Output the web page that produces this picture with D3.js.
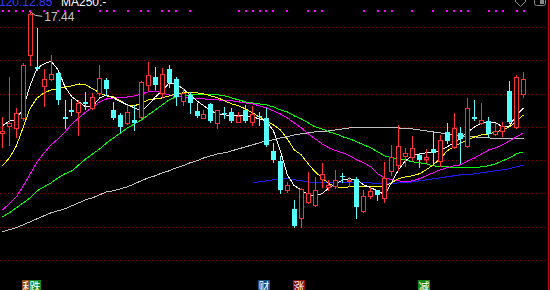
<!DOCTYPE html>
<html>
<head>
<meta charset="utf-8">
<script src="https://cdn.jsdelivr.net/npm/d3@7"></script>
<style>
  html, body { margin: 0; padding: 0; background: #000; overflow: hidden; }
  svg { display: block; }
</style>
</head>
<body>
<svg id="chart"></svg>
<script>
const width = 550;
const height = 290;

// Daily candles (76 sessions)
const opens = [13.82, 14.03, 13.97, 14.27, 16.16, 15.80, 15.23, 15.44, 15.62, 14.30,
  14.51, 14.45, 14.75, 14.57, 15.02, 15.41, 14.51, 14.36, 14.12, 14.21,
  14.30, 15.26, 15.50, 15.02, 15.74, 15.44, 14.78, 14.96, 14.48, 14.27,
  14.69, 14.12, 14.43, 14.45, 14.15, 14.51, 14.15, 14.33, 14.27, 13.28,
  12.98, 12.11, 11.54, 11.27, 11.75, 11.66, 12.44, 12.20, 12.23, 12.51,
  12.38, 12.44, 11.48, 11.93, 12.11, 11.87, 12.68, 12.86, 13.13, 13.10,
  13.16, 13.04, 13.34, 12.98, 13.85, 13.40, 13.82, 13.43, 14.30, 14.12,
  14.18, 13.79, 13.88, 15.08, 14.00, 14.99];
const highs = [14.30, 15.50, 14.57, 15.92, 17.44, 16.97, 15.74, 16.16, 15.65, 14.81,
  14.84, 14.81, 15.05, 15.02, 15.86, 15.47, 14.75, 14.42, 14.66, 14.66,
  15.38, 15.95, 15.80, 15.77, 15.86, 15.50, 15.17, 15.05, 14.72, 14.51,
  14.72, 14.51, 14.60, 14.57, 14.45, 14.66, 14.63, 14.45, 14.57, 13.52,
  13.13, 12.35, 11.81, 12.17, 12.65, 12.50, 12.92, 12.41, 12.71, 12.62,
  12.50, 12.50, 12.11, 12.20, 12.11, 12.95, 13.46, 14.06, 13.37, 13.73,
  13.22, 13.34, 13.88, 13.76, 14.12, 14.42, 14.00, 14.87, 14.81, 14.72,
  14.30, 14.12, 14.15, 15.38, 15.56, 15.65];
const lows = [13.40, 13.46, 13.70, 14.21, 15.86, 15.71, 14.63, 15.41, 14.69, 13.97,
  14.36, 13.76, 14.54, 14.54, 14.96, 14.96, 14.24, 13.85, 14.09, 13.91,
  14.21, 15.11, 15.14, 14.90, 15.20, 14.66, 14.66, 14.42, 14.30, 14.27,
  14.15, 13.97, 14.27, 14.15, 14.15, 14.15, 14.06, 14.06, 13.43, 12.95,
  12.02, 12.05, 11.00, 11.00, 11.72, 11.63, 12.20, 12.11, 12.17, 12.35,
  12.23, 11.27, 11.45, 11.87, 11.81, 11.75, 12.56, 12.71, 12.83, 13.01,
  12.80, 12.95, 12.89, 12.83, 13.52, 13.37, 12.92, 13.40, 14.21, 14.09,
  13.70, 13.76, 13.73, 14.12, 13.97, 14.90];
const closes = [13.88, 14.12, 14.42, 15.86, 17.40, 15.74, 15.44, 15.59, 14.81, 14.24,
  14.45, 14.72, 14.69, 14.90, 15.47, 15.14, 14.27, 14.00, 14.45, 14.12,
  15.35, 15.56, 15.26, 15.59, 15.32, 14.90, 15.02, 14.72, 14.33, 14.39,
  14.18, 14.51, 14.40, 14.18, 14.33, 14.18, 14.39, 14.30, 13.46, 13.01,
  12.11, 12.26, 11.03, 12.14, 12.02, 12.11, 12.59, 12.26, 12.41, 12.48,
  12.41, 11.60, 11.93, 12.08, 11.96, 12.47, 13.10, 13.43, 13.22, 13.37,
  13.01, 13.10, 13.22, 13.61, 13.58, 13.97, 13.64, 14.57, 14.24, 14.21,
  13.79, 13.88, 14.03, 14.15, 15.50, 15.44];

// Moving averages
const ma5 = [14.03, 14.18, 14.21, 14.57, 15.26, 15.77, 15.89, 15.98, 15.71, 15.20,
  14.90, 14.75, 14.60, 14.63, 14.87, 14.96, 14.87, 14.75, 14.66, 14.57,
  14.48, 14.66, 14.90, 15.08, 15.32, 15.29, 15.14, 14.96, 14.78, 14.63,
  14.48, 14.39, 14.36, 14.33, 14.33, 14.33, 14.30, 14.24, 14.18, 13.88,
  13.28, 12.56, 12.23, 12.11, 11.96, 11.93, 11.99, 12.17, 12.29, 12.41,
  12.44, 12.41, 12.26, 12.17, 12.08, 11.96, 12.32, 12.71, 12.98, 13.13,
  13.19, 13.22, 13.22, 13.28, 13.40, 13.52, 13.67, 13.85, 14.00, 14.12,
  14.15, 14.12, 14.00, 14.03, 14.36, 14.57];
const ma10 = [12.83, 13.07, 13.43, 14.00, 14.57, 14.87, 15.02, 15.11, 15.14, 15.20,
  15.23, 15.29, 15.26, 15.14, 15.02, 14.93, 14.90, 14.78, 14.66, 14.63,
  14.72, 14.81, 14.84, 14.87, 14.93, 14.99, 15.02, 15.02, 15.02, 14.99,
  14.93, 14.87, 14.78, 14.69, 14.63, 14.54, 14.42, 14.30, 14.18, 14.06,
  13.91, 13.64, 13.31, 13.16, 12.89, 12.65, 12.47, 12.29, 12.20, 12.17,
  12.20, 12.20, 12.20, 12.20, 12.20, 12.23, 12.32, 12.44, 12.50, 12.53,
  12.59, 12.71, 12.86, 13.04, 13.28, 13.40, 13.52, 13.61, 13.70, 13.76,
  13.79, 13.85, 13.91, 14.00, 14.18, 14.36];
const ma20 = [11.51, 11.69, 11.90, 12.23, 12.59, 12.95, 13.22, 13.46, 13.64, 13.85,
  14.09, 14.27, 14.45, 14.60, 14.75, 14.84, 14.87, 14.87, 14.90, 14.93,
  14.99, 15.05, 15.08, 15.02, 14.96, 14.90, 14.90, 14.87, 14.84, 14.84,
  14.81, 14.81, 14.78, 14.78, 14.75, 14.72, 14.69, 14.63, 14.57, 14.48,
  14.39, 14.27, 14.12, 13.97, 13.79, 13.64, 13.49, 13.37, 13.28, 13.22,
  13.13, 13.01, 12.92, 12.80, 12.59, 12.47, 12.41, 12.38, 12.35, 12.38,
  12.44, 12.53, 12.62, 12.71, 12.77, 12.83, 12.86, 12.98, 13.07, 13.19,
  13.31, 13.37, 13.46, 13.58, 13.70, 13.82];
const ma30 = [11.30, 11.42, 11.57, 11.72, 11.87, 12.08, 12.20, 12.32, 12.47, 12.59,
  12.68, 12.86, 13.04, 13.19, 13.34, 13.52, 13.67, 13.82, 13.97, 14.09,
  14.21, 14.36, 14.51, 14.66, 14.81, 14.90, 14.93, 14.96, 14.96, 14.96,
  14.96, 14.96, 14.93, 14.87, 14.81, 14.75, 14.72, 14.69, 14.66, 14.60,
  14.51, 14.45, 14.33, 14.24, 14.12, 14.00, 13.94, 13.85, 13.79, 13.70,
  13.64, 13.55, 13.46, 13.37, 13.25, 13.13, 13.07, 13.04, 13.01, 12.95,
  12.92, 12.89, 12.83, 12.80, 12.80, 12.77, 12.77, 12.77, 12.77, 12.80,
  12.83, 12.89, 12.98, 13.07, 13.19, 13.25];
const ma60 = [10.85, 10.91, 10.97, 11.06, 11.15, 11.24, 11.33, 11.42, 11.48, 11.54,
  11.63, 11.72, 11.81, 11.87, 11.96, 12.05, 12.08, 12.14, 12.20, 12.29,
  12.38, 12.47, 12.53, 12.62, 12.68, 12.77, 12.83, 12.92, 12.98, 13.07,
  13.13, 13.19, 13.22, 13.28, 13.34, 13.40, 13.46, 13.52, 13.58, 13.61,
  13.67, 13.70, 13.76, 13.79, 13.82, 13.85, 13.85, 13.88, 13.91, 13.94,
  13.97, 13.97, 13.97, 13.97, 13.97, 13.97, 13.97, 13.97, 13.94, 13.94,
  13.91, 13.88, 13.85, 13.82, 13.79, 13.76, 13.73, 13.70, 13.70, 13.67,
  13.67, 13.64, 13.64, 13.64, 13.64, 13.64];
const ma120 = [null, null, null, null, null, null, null, null, null, null,
  null, null, null, null, null, null, null, null, null, null,
  null, null, null, null, null, null, null, null, null, null,
  null, null, null, null, null, null, 12.32, 12.35, 12.38, 12.41,
  12.44, 12.44, 12.41, 12.38, 12.35, 12.32, 12.32, 12.32, 12.32, 12.32,
  12.32, 12.32, 12.32, 12.32, 12.29, 12.29, 12.29, 12.32, 12.32, 12.35,
  12.38, 12.41, 12.44, 12.47, 12.50, 12.53, 12.56, 12.56, 12.59, 12.62,
  12.65, 12.68, 12.71, 12.74, 12.80, 12.85];

const gridPrices = [10, 11, 12, 13, 14, 15, 16, 17];
const markDays = [0, 1, 2, 3, 4, 6, 8, 9, 11, 14, 15, 16, 18, 20, 21, 23, 24, 25, 27,
  34, 35, 36, 37, 38, 39, 41, 44, 45, 46, 52, 54, 55, 56, 59, 62, 64, 65, 66, 67,
  70, 71, 72, 74, 75];
const tagDays = [3, 4, 37, 42, 60];
const tagTexts = ['利', '跌', '财', '涨', '减'];
const tagColors = ['#8c4a12', '#12841a', '#164a82', '#8c0a0a', '#12841a'];

const upColor = '#ff3232';
const downColor = '#54ffff';

const svg = d3.select('#chart')
  .attr('width', width)
  .attr('height', height)
  .style('background', '#000');

const x = d3.scalePoint()
  .domain(d3.range(opens.length))
  .range([2.5, 523.5]);

const y = d3.scaleLinear()
  .domain([10, 17])
  .range([260, 27]);

// dotted price grid
svg.append('g')
  .selectAll('line')
  .data(gridPrices)
  .join('line')
  .attr('x1', 0)
  .attr('x2', 547)
  .attr('y1', d => Math.round(y(d)) + 0.5)
  .attr('y2', d => Math.round(y(d)) + 0.5)
  .attr('stroke', '#8a0000')
  .attr('stroke-dasharray', '1,3')
  .attr('shape-rendering', 'crispEdges');

// right border
svg.append('line')
  .attr('x1', 548.5).attr('x2', 548.5)
  .attr('y1', 0).attr('y2', height)
  .attr('stroke', '#c80000')
  .attr('shape-rendering', 'crispEdges');

// moving averages
const lines = [
  { values: ma60, color: '#c0c0c0' },
  { values: ma120, color: '#1a1aff' },
  { values: ma30, color: '#00ff00' },
  { values: ma20, color: '#ff00ff' },
  { values: ma10, color: '#ffff00' },
  { values: ma5, color: '#ffffff' }
];

const lineGen = d3.line()
  .defined(d => d != null)
  .x((d, i) => x(i))
  .y(d => y(d));

svg.append('g')
  .selectAll('path')
  .data(lines)
  .join('path')
  .attr('d', d => lineGen(d.values))
  .attr('fill', 'none')
  .attr('stroke', d => d.color)
  .attr('stroke-width', 1)
  .attr('shape-rendering', 'crispEdges');

// candles
const candles = d3.range(opens.length).map(i => ({
  i, o: opens[i], h: highs[i], l: lows[i], c: closes[i]
}));

const cg = svg.append('g').attr('shape-rendering', 'crispEdges');

candles.forEach(d => {
  const left = Math.round(x(d.i) - 2.5);
  const wx = left + 2.5;
  const top = Math.round(y(Math.max(d.o, d.c)));
  const bot = Math.round(y(Math.min(d.o, d.c)));
  const hi = Math.round(y(d.h));
  const lo = Math.round(y(d.l));
  if (d.c > d.o) {
    if (hi < top) cg.append('line').attr('x1', wx).attr('x2', wx).attr('y1', hi).attr('y2', top).attr('stroke', upColor);
    if (lo > bot) cg.append('line').attr('x1', wx).attr('x2', wx).attr('y1', bot + 1).attr('y2', lo + 1).attr('stroke', upColor);
    cg.append('rect')
      .attr('x', left + 0.5).attr('y', top + 0.5)
      .attr('width', 4).attr('height', Math.max(bot - top, 1))
      .attr('fill', '#000').attr('stroke', upColor);
  } else {
    cg.append('line').attr('x1', wx).attr('x2', wx).attr('y1', hi).attr('y2', lo + 1).attr('stroke', downColor);
    cg.append('rect')
      .attr('x', left).attr('y', top)
      .attr('width', 5).attr('height', Math.max(bot - top, 1))
      .attr('fill', downColor);
  }
});

// signal dots along the top
svg.append('g')
  .selectAll('rect')
  .data(markDays)
  .join('rect')
  .attr('x', d => Math.round(x(d)) - 1)
  .attr('y', 10)
  .attr('width', 2)
  .attr('height', 2)
  .attr('fill', '#ff00ff');

// high marker
const hiIdx = d3.maxIndex(highs);
const hx = x(hiIdx), hy = y(highs[hiIdx]);
svg.append('path')
  .attr('d', `M${hx + 1},${hy} L${hx + 5},${hy + 3} L${hx + 12},${hy + 4}`)
  .attr('fill', 'none')
  .attr('stroke', '#c8c8c8');
svg.append('text')
  .attr('x', hx + 14)
  .attr('y', hy + 9)
  .attr('fill', '#c8c8c8')
  .attr('font-family', 'Liberation Sans, Arial, sans-serif')
  .attr('font-size', 12)
  .text(highs[hiIdx].toFixed(2));

// legend text (scrolled, partly off the top)
svg.append('text')
  .attr('x', -1)
  .attr('y', 6)
  .attr('font-family', 'Liberation Sans, Arial, sans-serif')
  .attr('font-size', 12)
  .attr('fill', '#3a3aff')
  .text('120:' + ma120[ma120.length - 1].toFixed(2));
svg.append('text')
  .attr('x', 61)
  .attr('y', 6)
  .attr('font-family', 'Liberation Sans, Arial, sans-serif')
  .attr('font-size', 12)
  .attr('fill', '#ffffff')
  .text('MA250:-');

// little toolbar icons top right
svg.append('path')
  .attr('d', 'M515,1 L520.5,6.5 L526,1 L520.5,-4.5 Z')
  .attr('fill', 'none')
  .attr('stroke', '#888');
svg.append('rect')
  .attr('x', 534.5).attr('y', -3.5)
  .attr('width', 11).attr('height', 9).attr('rx', 2)
  .attr('fill', 'none').attr('stroke', '#888');
svg.append('rect')
  .attr('x', 540).attr('y', -2)
  .attr('width', 4).attr('height', 6)
  .attr('fill', '#888');

// event tags at the bottom
const tg = svg.append('g');
tagDays.forEach((d, k) => {
  const bx = Math.round(x(d) - 1.5);
  tg.append('rect')
    .attr('x', bx).attr('y', 280)
    .attr('width', 12).attr('height', 12)
    .attr('fill', tagColors[k]);
  tg.append('text')
    .attr('x', bx + 6).attr('y', 291)
    .attr('text-anchor', 'middle')
    .attr('font-family', 'Noto Sans CJK SC, sans-serif')
    .attr('font-size', 11)
    .attr('fill', '#fff')
    .text(tagTexts[k]);
});
</script>
</body>
</html>
